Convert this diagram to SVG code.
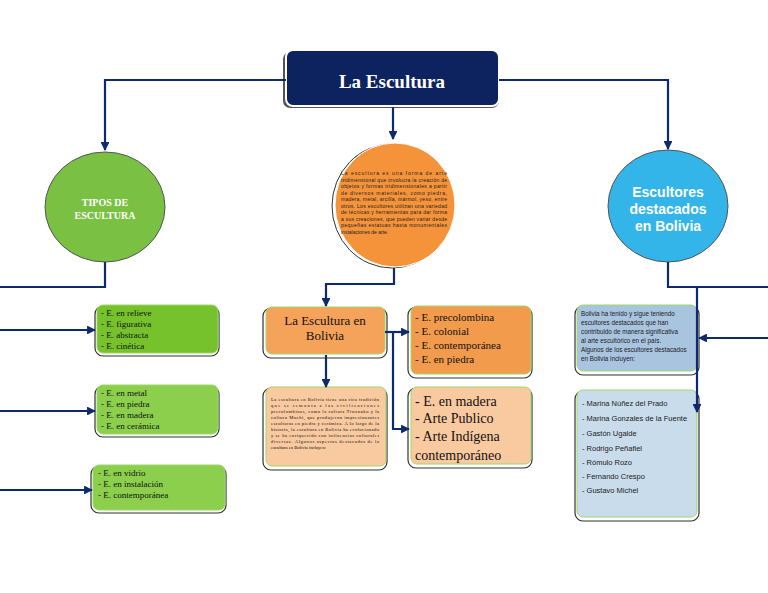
<svg xmlns="http://www.w3.org/2000/svg" width="768" height="593" viewBox="0 0 768 593">
<style>
.ln{fill:none;stroke:#0d2a6e;stroke-width:2.2}
.bx{stroke:#9fd86a;stroke-width:1}
.sh{fill:none;stroke:#333;stroke-width:1.2}
.sr{font-family:"Liberation Serif",serif;fill:#111}
.ss{font-family:"Liberation Sans",sans-serif;fill:#222}
</style>
<defs>
<marker id="a" viewBox="0 0 10 10" refX="9" refY="5" markerWidth="4" markerHeight="4" orient="auto"><path d="M0,0L10,5L0,10z" fill="#0d2a6e"/></marker>
</defs>
<rect width="768" height="593" fill="#fff"/>
<g id="title">
<rect x="283" y="52" width="216" height="56" rx="7" fill="#555"/>
<rect x="286" y="50" width="213" height="56" rx="7" fill="#0d2360" stroke="#fff" stroke-width="2"/>
<text x="392" y="88" text-anchor="middle" font-family="Liberation Serif,serif" font-weight="bold" font-size="19" fill="#fff">La Escultura</text>
</g>
<g id="tipos">
<ellipse cx="105" cy="207" rx="60" ry="55" fill="#7ac143" stroke="#555"/>
<text x="105" y="206" text-anchor="middle" font-family="Liberation Serif,serif" font-weight="bold" font-size="10" fill="#fff">TIPOS DE</text>
<text x="105" y="219" text-anchor="middle" font-family="Liberation Serif,serif" font-weight="bold" font-size="10" fill="#fff">ESCULTURA</text>
</g>
<g id="def">
<ellipse cx="392" cy="206" rx="60" ry="62" fill="none" stroke="#333"/>
<ellipse cx="395" cy="205" rx="60" ry="62" fill="#f4933a" stroke="#fff"/>
<g class="ss" font-size="5" textLength="105">
<text x="341" y="175" textLength="106">La escultura es una forma de arte</text>
<text x="341" y="181.5" textLength="106">tridimensional que involucra la creación de</text>
<text x="341" y="188" textLength="106">objetos y formas tridimensionales a partir</text>
<text x="341" y="194.5" textLength="106">de diversos materiales, como piedra,</text>
<text x="341" y="201" textLength="106">madera, metal, arcilla, mármol, yeso, entre</text>
<text x="341" y="207.5" textLength="106">otros. Los escultores utilizan una variedad</text>
<text x="341" y="214" textLength="106">de técnicas y herramientas para dar forma</text>
<text x="341" y="220.5" textLength="106">a sus creaciones, que pueden variar desde</text>
<text x="341" y="227" textLength="106">pequeñas estatuas hasta monumentales</text>
<text x="341" y="233.5">instalaciones de arte.</text>
</g>
</g>
<g id="escultores">
<ellipse cx="668" cy="206" rx="60" ry="56" fill="#33b5ea" stroke="#555"/>
<g font-family="Liberation Sans,sans-serif" font-weight="bold" font-size="14" fill="#fff" text-anchor="middle">
<text x="668" y="197">Escultores</text><text x="668" y="214">destacados</text><text x="668" y="231">en Bolivia</text></g>
</g>
<g id="g1">
<rect x="95" y="306" width="124" height="50" rx="8" class="sh"/>
<rect x="97" y="305" width="121" height="48" rx="6" fill="#76c22d" class="bx"/>
<g class="sr" font-size="9"><text x="101" y="316">- E. en relieve</text><text x="101" y="327">- E. figurativa</text><text x="101" y="338">- E. abstracta</text><text x="101" y="349">- E. cinética</text></g>
</g>
<g id="g2">
<rect x="95" y="386" width="124" height="51" rx="8" class="sh"/>
<rect x="97" y="385" width="121" height="49" rx="6" fill="#8ccf4d" class="bx"/>
<g class="sr" font-size="9"><text x="101" y="396">- E. en metal</text><text x="101" y="407">- E. en piedra</text><text x="101" y="418">- E. en madera</text><text x="101" y="429">- E. en cerámica</text></g>
</g>
<g id="g3">
<rect x="91" y="466" width="135" height="47" rx="8" class="sh"/>
<rect x="93" y="465" width="132" height="45" rx="6" fill="#8ccf4d" class="bx"/>
<g class="sr" font-size="9"><text x="98" y="476">- E. en vidrio</text><text x="98" y="487">- E. en instalación</text><text x="98" y="498">- E. contemporánea</text></g>
</g>
<g id="bolivia">
<rect x="263" y="308" width="124" height="50" rx="8" class="sh"/>
<rect x="266" y="307" width="119" height="47" rx="6" fill="#f5a25a" class="bx"/>
<text x="325" y="325" text-anchor="middle" class="sr" font-size="13">La Escultura en</text>
<text x="325" y="340" text-anchor="middle" class="sr" font-size="13">Bolivia</text>
</g>
<g id="parrafo">
<rect x="263" y="388" width="124" height="82" rx="8" class="sh"/>
<rect x="266" y="387" width="120" height="79" rx="6" fill="#f9c9a0" class="bx"/>
<g class="sr" font-size="4.6">
<text x="271" y="401" textLength="108">La escultura en Bolivia tiene una rica tradición</text>
<text x="271" y="407" textLength="108">que se remonta a las civilizaciones</text>
<text x="271" y="413" textLength="108">precolombinas, como la cultura Tiwanaku y la</text>
<text x="271" y="419" textLength="108">cultura Mochi, que produjeron impresionantes</text>
<text x="271" y="425" textLength="108">esculturas en piedra y cerámica. A lo largo de la</text>
<text x="271" y="431" textLength="108">historia, la escultura en Bolivia ha evolucionado</text>
<text x="271" y="437" textLength="108">y se ha enriquecido con influencias culturales</text>
<text x="271" y="443" textLength="108">diversas. Algunos aspectos destacados de la</text>
<text x="271" y="449">escultura en Bolivia incluyen:</text>
</g>
</g>
<g id="periodos">
<rect x="408" y="307" width="124" height="71" rx="8" class="sh"/>
<rect x="411" y="306" width="120" height="68" rx="6" fill="#f29b4c" class="bx"/>
<g class="sr" font-size="11"><text x="415" y="321">- E. precolombina</text><text x="415" y="335">- E. colonial</text><text x="415" y="349">- E. contemporánea</text><text x="415" y="363">- E. en piedra</text></g>
</g>
<g id="madera">
<rect x="408" y="388" width="124" height="80" rx="8" class="sh"/>
<rect x="411" y="387" width="120" height="77" rx="6" fill="#f9c9a0" class="bx"/>
<g class="sr" font-size="14"><text x="415" y="406">- E. en madera</text><text x="415" y="423">- Arte Publico</text><text x="415" y="441">- Arte Indígena</text><text x="415" y="460">contemporáneo</text></g>
</g>
<g id="intro">
<rect x="575" y="306" width="124" height="69" rx="8" class="sh"/>
<rect x="577" y="305" width="120" height="66" rx="6" fill="#a9c4df" class="bx"/>
<g class="ss" font-size="6.3"><text x="581" y="316">Bolivia ha tenido y sigue teniendo</text><text x="581" y="325">escultores destacados que han</text><text x="581" y="334">contribuido de manera significativa</text><text x="581" y="343">al arte escultórico en el país.</text><text x="581" y="352">Algunos de los escultores destacados</text><text x="581" y="361">en Bolivia incluyen:</text></g>
</g>
<g id="lista">
<rect x="575" y="391" width="124" height="130" rx="8" class="sh"/>
<rect x="577" y="390" width="120" height="127" rx="6" fill="#c9dcec" class="bx"/>
<g class="ss" font-size="7.5"><text x="582" y="406">- Marina Núñez del Prado</text><text x="582" y="421">- Marina Gonzales de la Fuente</text><text x="582" y="436">- Gastón Ugalde</text><text x="582" y="451">- Rodrigo Peñafiel</text><text x="582" y="465">- Rómulo Rozo</text><text x="582" y="479">- Fernando Crespo</text><text x="582" y="493">- Gustavo Michel</text></g>
</g>
<g id="connectors">
<path class="ln" d="M286,80H105V150" marker-end="url(#a)"/>
<path class="ln" d="M499,80H668V149" marker-end="url(#a)"/>
<path class="ln" d="M393,107V139" marker-end="url(#a)"/>
<path class="ln" d="M105,262V287H0"/>
<path class="ln" d="M0,330H95" marker-end="url(#a)"/>
<path class="ln" d="M0,411H95" marker-end="url(#a)"/>
<path class="ln" d="M0,490H92" marker-end="url(#a)"/>
<path class="ln" d="M394,268V284H326V306" marker-end="url(#a)"/>
<path class="ln" d="M326,355V387" marker-end="url(#a)"/>
<path class="ln" d="M385,332H409" marker-end="url(#a)"/>
<path class="ln" d="M393,332V429H409" marker-end="url(#a)"/>
<path class="ln" d="M668,262V287H768"/>
<path class="ln" d="M697,287V412" marker-end="url(#a)"/>
<path class="ln" d="M768,338H699" marker-end="url(#a)"/>
</g>
</svg>
